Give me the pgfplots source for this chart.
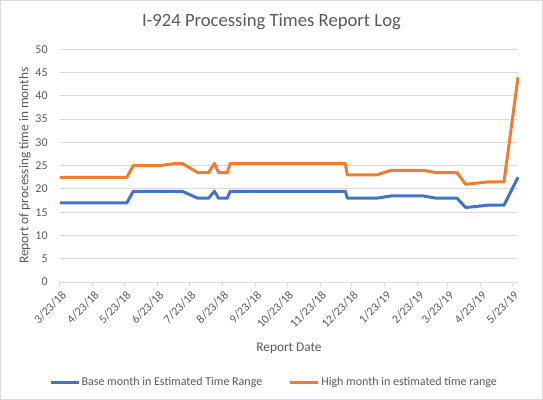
\documentclass[border=0pt]{standalone}
\usepackage{fontspec}
\setmainfont{Carlito}
\usepackage{pgfplots}
\pgfplotsset{compat=1.18}
\usepackage{pgfplotstable}

\definecolor{basecol}{HTML}{4472C4}
\definecolor{highcol}{HTML}{ED7D31}
\definecolor{gridgray}{HTML}{D9D9D9}
\definecolor{txtgray}{HTML}{595959}

% days counted from 3/23/18
\pgfplotstableread{
day   months
0     17
63    17
69    19.5
115   19.5
129.8 18
139.9 18
145.5 19.5
149.3 18
157.5 18
160.3 19.5
268.7 19.5
270.6 18
297.9 18
312   18.5
341.8 18.5
354.5 18
373.9 18
382.1 16
403.1 16.5
418.2 16.5
431.4 22.5
}\basetable

\pgfplotstableread{
day   months
0     22.5
63    22.5
69    25
93.7  25
109.4 25.5
115   25.5
129.8 23.5
139.9 23.5
145.5 25.5
149.3 23.5
157.5 23.5
160.3 25.5
268.7 25.5
270.6 23
297.9 23
312   24
341.8 24
354.5 23.5
373.9 23.5
382.1 21
403.1 21.5
418.2 21.5
431.4 44
}\hightable

\begin{document}
\begin{tikzpicture}
\path[use as bounding box] (0,0) rectangle (407.25pt,300pt);
\draw[gridgray, line width=0.75pt] (0.4pt,0.4pt) rectangle (406.85pt,299.6pt);
\node[txtgray, font=\fontsize{14}{17}\selectfont] at (203.6pt,283.5pt) {I-924 Processing Times Report Log};
\begin{axis}[
    at={(45pt,88.5pt)}, anchor=south west,
    scale only axis,
    width=343.5pt, height=174.5pt,
    xmin=0, xmax=431.4,
    ymin=0, ymax=50,
    ytick={0,5,...,50},
    xtick={0,31,61,92,122,153,184,214,245,275,306,337,365,396,426},
    xticklabels={3/23/18,4/23/18,5/23/18,6/23/18,7/23/18,8/23/18,9/23/18,10/23/18,11/23/18,12/23/18,1/23/19,2/23/19,3/23/19,4/23/19,5/23/19},
    axis x line*=bottom, axis y line*=left,
    x axis line style={draw=gridgray, line width=0.75pt, -},
    y axis line style={draw=none},
    ymajorgrids,
    grid style={draw=gridgray, line width=0.75pt},
    tick align=outside,
    major tick length=3.75pt,
    xtick style={draw=gridgray, line width=0.75pt},
    ytick style={draw=none},
    tick label style={font=\fontsize{9}{11}\selectfont, text=txtgray},
    xticklabel style={rotate=45, anchor=north east, inner sep=1pt, yshift=-1pt},
    yticklabel style={xshift=-2pt},
    /pgf/number format/assume math mode=true,
    clip=false,
    legend columns=2,
    legend style={at={(axis description cs:0.4667,0)}, yshift=-75.4pt, anchor=center,
        draw=none, fill=none, font=\fontsize{9}{11}\selectfont, text=txtgray,
        /tikz/every even column/.append style={column sep=19pt},
        nodes={inner sep=1pt}},
    legend image code/.code={\draw[#1] (0pt,0pt) -- (21pt,0pt);},
]
\addplot[basecol, line width=2.25pt, line join=round, mark=none] table[x=day, y=months] {\basetable};
\addlegendentry{Base month in Estimated Time Range}
\addplot[highcol, line width=2.25pt, line join=round, mark=none] table[x=day, y=months] {\hightable};
\addlegendentry{High month in estimated time range}
\node[txtgray, font=\fontsize{10}{12}\selectfont] at ([yshift=-49.5pt]axis description cs:0.5,0) {Report Date};
\node[txtgray, font=\fontsize{10}{12}\selectfont, rotate=90] at ([xshift=-26.25pt]axis description cs:0,0.5) {Report of processing time in months};
\end{axis}
\end{tikzpicture}
\end{document}
